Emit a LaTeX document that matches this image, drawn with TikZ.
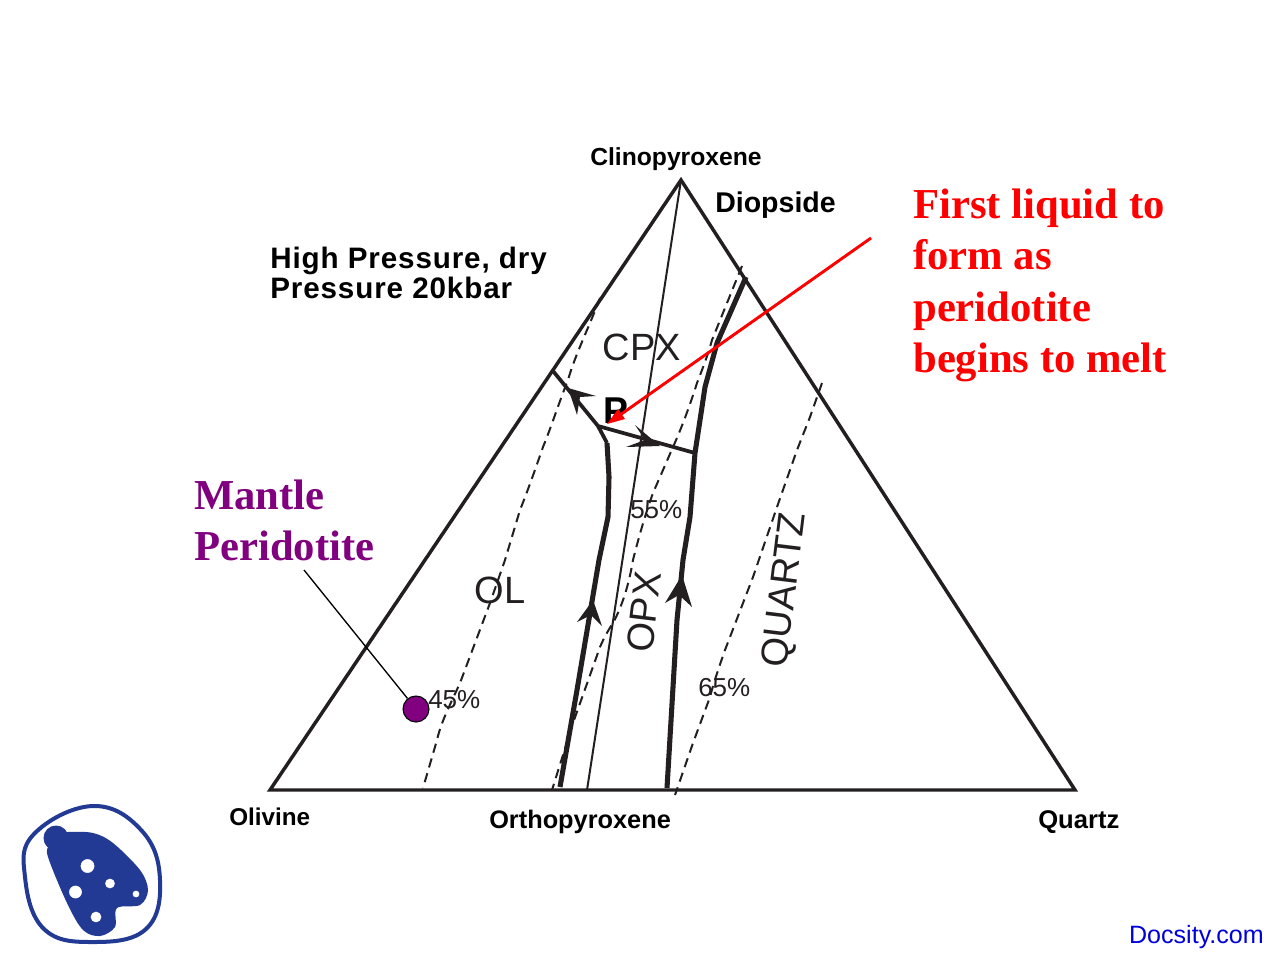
\documentclass[tikz,border=0pt]{standalone}
\usepackage{fontspec}
\setmainfont{Liberation Sans}
\newfontfamily\serifbold{Liberation Serif}[BoldFont={Liberation Serif Bold}]
\newfontfamily\spacedsans{Liberation Sans}[LetterSpace=3]
\definecolor{ink}{HTML}{231F20}
\definecolor{logoblue}{HTML}{233A95}
\definecolor{plum}{RGB}{128,0,128}
\tikzset{
  frameline/.style={draw=ink,line width=2.6pt,line join=miter},
  thickline/.style={draw=ink,line width=3.8pt,line join=round},
  thinline/.style={draw=ink,line width=1.5pt},
  dashline/.style={draw=ink,line width=1.5pt,dash pattern=on 7pt off 4.5pt},
  head/.style={fill=ink,draw=none},
  corner/.style={font=\fontsize{18.5}{20}\selectfont\bfseries,anchor=base west,inner sep=0pt,text=black},
  phase/.style={font=\fontsize{28.5}{30}\selectfont,inner sep=0pt,text=ink},
  percent/.style={font=\fontsize{19.5}{22}\selectfont,anchor=base west,inner sep=0pt,text=ink},
  note/.style={font=\fontsize{32}{34}\selectfont\serifbold\bfseries,anchor=base west,inner sep=0pt},
  pressure/.style={font=\fontsize{22.2}{24}\selectfont\spacedsans\bfseries,anchor=base west,inner sep=0pt,text=black},
}
\begin{document}
\begin{tikzpicture}[x=0.75pt,y=-0.75pt]
\useasboundingbox[fill=white] (0,0) rectangle (1280,960);
% dashed isotherms
\draw[dashline] (600,298) .. controls (590,325) and (575,355) .. (568,380) .. controls (558,405) and (552,425) .. (543,447) .. controls (535,470) and (528,490) .. (520,510) -- (505,560) -- (490,603) -- (460,683) .. controls (450,705) and (441,722) .. (437,740) -- (423,788);
\draw[dashline] (742,266) -- (712,340) .. controls (708,355) and (702,370) .. (697,383) .. controls (690,405) and (682,427) .. (673,447) -- (653,493) .. controls (645,515) and (638,540) .. (633,560) .. controls (628,590) and (620,610) .. (613,623) .. controls (607,632) and (603,640) .. (600,647) -- (573,723) -- (552,790);
\draw[dashline] (822,383) -- (810,417) -- (797,450) -- (777,507) -- (753,577) -- (725,650) .. controls (718,670) and (713,685) .. (710,697) -- (693,743) -- (675,795);
% thin line
\draw[thinline] (681,180) -- (587,790);
% triangle
\draw[frameline] (270,790) -- (681,180) -- (1075,790) -- cycle;
% thick lines
\draw[thickline] (746,277) -- (717,343) -- (705,387) -- (702,407) -- (695,453) -- (690,517) -- (683,560) -- (677,620) -- (667,788);
\draw[thickline] (560,787) -- (577,690) -- (599,560) -- (608,517) -- (609,477) -- (607,443);
\draw[thickline,line width=2.8pt] (607,443) -- (598,426);
\draw[thickline,line width=2.8pt] (553,371) -- (598,426) -- (695,453);
% arrowheads
\fill[head] (568,388) -- (596,396) -- (580,397) -- (577,415) -- cycle;
\fill[head] (660,446) -- (626,447) -- (645,440) -- (635,425) -- cycle;
\fill[head] (593,600) -- (602,626) -- (591,615) -- (577,622) -- cycle;
\fill[head] (682,575) -- (692,607) -- (679,595) -- (665,603) -- cycle;
% vertex labels
\node[corner] (cpxv) at (590,165) {Clinopyroxene};
\node[corner,font=\fontsize{21.4}{24}\selectfont\bfseries] (diop) at (715,212) {Diopside};
\node[corner,font=\fontsize{18.2}{20}\selectfont\bfseries] (oliv) at (229,825) {Olivine};
\node[corner,font=\fontsize{19}{20}\selectfont\bfseries] (opxv) at (489,828) {Orthopyroxene};
\node[corner,font=\fontsize{19.2}{20}\selectfont\bfseries] (qtzv) at (1038,828) {Quartz};
\node[pressure] (pa) at (270,268) {High Pressure, dry};
\node[pressure] (pb) at (270,298) {Pressure 20kbar};
% fields
\node[phase] (cpx) at (642,347) {CPX};
\node[phase] (ol) at (500,590) {OL};
\node[phase,rotate=83] (opx) at (644,612) {OPX};
\node[phase,rotate=83] (qtz) at (786,590) {QUARTZ};
\node[font=\fontsize{28}{30}\selectfont\bfseries,anchor=base west,inner sep=0pt,text=black] (p) at (603,423) {P};
\node[percent] (pc45) at (428,708) {45\%};
\node[percent] (pc55) at (630,518) {55\%};
\node[percent] (pc65) at (698,696) {65\%};
% notes
\node[note,text=red] (n1) at (913,218) {First liquid to};
\node[note,text=red] (n2) at (913,269) {form as};
\node[note,text=red] (n3) at (913,321) {peridotite};
\node[note,text=red] (n4) at (913,372) {begins to melt};
\node[note,text=plum] (m1) at (194,509) {Mantle};
\node[note,text=plum] (m2) at (194,560) {Peridotite};
% peridotite point
\coordinate (mfrom) at (304,570);
\node[circle,draw=black,line width=.8pt,fill=plum,minimum size=19.5pt,inner sep=0pt] (dot) at (416,709) {};
\draw[black,line width=1pt] (mfrom) -- (dot);
% red arrow
\coordinate (rfrom) at (871,238);
\coordinate (rto) at (607,424);
\draw[red,line width=2.2pt] (rfrom) -- (620,415);
\fill[red] (rto) -- (618,409) -- (625,419) -- cycle;
% logo
\draw[logoblue,line width=3pt] plot[smooth cycle,tension=0.7] coordinates {(93,806) (142,831) (160,880) (146,929) (93,942) (44,929) (25,877) (34,834)};
\fill[logoblue] (56,838) circle (12.5);
\fill[logoblue,even odd rule] plot[smooth cycle,tension=0.55] coordinates {(52,835) (68,832) (93,833) (113,843) (140,870) (148,890) (140,905) (117,908) (115,927) (100,936) (83,930) (67,903) (48,857) (49,845)}
 (87.5,866) circle (7) (110,883.5) circle (5) (75.5,892) circle (6.5) (136,894) circle (3.5) (96,917) circle (5.5);
\node[font=\fontsize{18.8}{20}\selectfont,anchor=base east,inner sep=0pt,text=blue!85!black] (docs) at (1264,943) {Docsity.com};
\end{tikzpicture}
\end{document}
